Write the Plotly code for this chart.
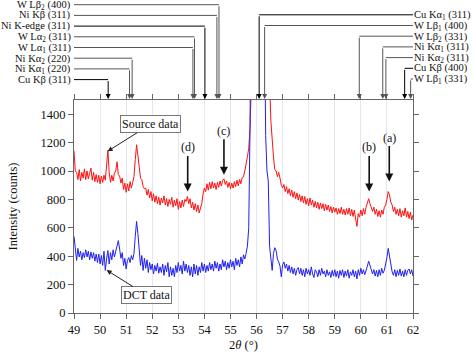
import numpy as np
import plotly.graph_objects as go

# ---------------- data ----------------
two_theta = np.round(np.arange(49.0, 62.0001, 0.05), 2)

source_counts = [
    1140, 1000, 990, 940, 1010, 930, 990, 950, 1015, 940,
    1000, 945, 985, 1020, 935, 990, 925, 975, 920, 970,
    910, 965, 920, 970, 935, 1050, 1145, 990, 920, 970,
    930, 985, 1000, 1065, 975, 965, 915, 950, 870, 915,
    850, 910, 860, 925, 880, 920, 960, 1080, 1185, 1110,
    1030, 950, 940, 890, 875, 880, 830, 870, 810, 855,
    790, 840, 780, 825, 770, 815, 760, 810, 775, 825,
    760, 805, 750, 800, 765, 815, 745, 795, 755, 805,
    730, 785, 740, 795, 750, 800, 785, 820, 770, 805,
    740, 780, 725, 770, 715, 760, 705, 745, 770, 840,
    880, 855, 910, 865, 920, 875, 925, 880, 915, 870,
    920, 885, 930, 895, 935, 945, 905, 930, 885, 920,
    875, 915, 880, 925, 890, 935, 895, 940, 910, 955,
    960, 1000, 1040, 1100, 1160, 1300, 1600, 2200, 3000, 4000,
    5000, 6000, 7000, 7000, 6500, 6000, 5000, 4000, 3000, 2200,
    1650, 1350, 1200, 1100, 1010, 1000, 960, 990, 950, 900,
    880, 905, 855, 890, 840, 875, 825, 865, 815, 855,
    805, 845, 795, 835, 785, 825, 775, 820, 765, 805,
    755, 810, 760, 795, 745, 785, 740, 780, 730, 775,
    735, 770, 720, 765, 725, 760, 715, 750, 705, 745,
    710, 740, 695, 735, 700, 745, 695, 730, 690, 735,
    695, 740, 685, 730, 680, 725, 660, 610, 700, 675,
    725, 685, 735, 695, 745, 770, 805, 770, 745, 715,
    745, 695, 730, 680, 720, 675, 725, 695, 745, 760,
    800, 855, 830, 780, 760, 715, 745, 695, 730, 685,
    735, 675, 720, 685, 740, 675, 715, 665, 710, 655,
    690,
]

dct_counts = [
    540, 440, 370, 455, 395, 435, 375, 425, 390, 445,
    395, 435, 375, 430, 385, 425, 365, 415, 355, 415,
    345, 405, 335, 435, 300, 380, 440, 345, 425, 375,
    445, 395, 435, 470, 510, 450, 385, 425, 335, 385,
    310, 370, 390, 355, 405, 375, 420, 540, 645, 560,
    440, 335, 405, 300, 385, 315, 375, 285, 355, 305,
    345, 275, 335, 295, 350, 280, 325, 285, 345, 265,
    335, 290, 355, 255, 325, 265, 315, 255, 335, 285,
    355, 295, 335, 275, 365, 295, 345, 285, 335, 265,
    325, 255, 345, 275, 335, 265, 325, 285, 355, 295,
    345, 285, 335, 295, 355, 305, 345, 295, 365, 315,
    355, 295, 345, 305, 375, 325, 365, 305, 355, 315,
    375, 325, 365, 305, 385, 335, 375, 325, 395, 345,
    410, 380, 420, 470, 600, 1300, 2600, 4000, 6000, 8000,
    10000, 11000, 10500, 9500, 8000, 5500, 2200, 1250, 1000, 930,
    470, 400, 300, 420, 460, 440, 380, 360, 330, 255,
    340, 360, 315, 345, 295, 335, 285, 325, 275, 315,
    265, 305, 320, 275, 315, 265, 305, 255, 315, 275,
    305, 265, 325, 275, 250, 305, 290, 255, 305, 265,
    315, 275, 295, 255, 305, 265, 290, 250, 300, 260,
    305, 255, 295, 245, 300, 265, 305, 250, 295, 260,
    305, 245, 290, 265, 305, 255, 295, 240, 305, 265,
    315, 275, 305, 270, 310, 330, 365, 340, 310, 275,
    305, 260, 300, 255, 305, 265, 315, 280, 300, 340,
    390, 455, 400, 340, 290, 265, 305, 255, 300, 265,
    310, 260, 295, 255, 305, 265, 300, 310, 275, 305,
    260,
]

left_labels = ["W Lβ<sub>2</sub> (400)", "Ni Kβ (311)", "Ni K-edge (311)",
               "W Lα<sub>2</sub> (311)", "W Lα<sub>1</sub> (311)",
               "Ni Kα<sub>2</sub> (220)", "Ni Kα<sub>1</sub> (220)", "Cu Kβ (311)"]
left_pos = [54.56, 54.48, 54.02, 53.62, 53.56, 51.23, 51.13, 50.31]
left_dark = [False, False, True, False, False, False, False, True]

right_labels = ["Cu Kα<sub>1</sub> (311)", "W Lβ<sub>1</sub> (400)", "W Lβ<sub>2</sub> (331)",
                "Ni Kα<sub>1</sub> (311)", "Ni Kα<sub>2</sub> (311)", "Cu Kβ (400)",
                "W Lβ<sub>1</sub> (331)"]
right_pos = [56.10, 56.31, 59.94, 60.84, 60.96, 61.68, 61.91]
right_dark = [True, False, False, False, False, True, False]

peak_tags = ["(a)", "(b)", "(c)", "(d)"]
peak_pos = [61.09, 60.32, 54.75, 53.36]
peak_tip = [926, 856, 974, 856]

# ---------------- figure ----------------
W, H = 474, 353
ML, MR, MT, MB = 74, 61, 100, 40
PH = H - MT - MB
FONT = "Liberation Serif"
LBL = 10.5


def paper_y(px):
    return (H - MB - px) / PH


fig = go.Figure()
fig.add_trace(go.Scatter(x=two_theta, y=source_counts, mode="lines",
                         line=dict(color="#ff1010", width=1), showlegend=False))
fig.add_trace(go.Scatter(x=two_theta, y=dct_counts, mode="lines",
                         line=dict(color="#2020f0", width=1), showlegend=False))

annotations = []
shapes = []

tip_px = 99
row_gap = 10.7
for k, (lab, pos, dark) in enumerate(zip(left_labels, left_pos, left_dark)):
    ry = 4.7 + row_gap * k
    col = "#000000" if dark else "#555555"
    annotations.append(dict(x=49, y=paper_y(ry), xref="x", yref="paper", text=lab,
                            showarrow=False, xanchor="right", yanchor="middle", xshift=-2,
                            yshift=-1 if "<sub>" in lab else 0,
                            borderpad=0, font=dict(family=FONT, size=LBL, color="#111")))
    shapes.append(dict(type="line", xref="x", yref="paper", x0=49, x1=pos,
                       y0=paper_y(ry), y1=paper_y(ry), line=dict(color=col, width=1)))
    annotations.append(dict(x=pos, y=paper_y(tip_px), xref="x", yref="paper", text="",
                            showarrow=True, ax=0, ay=ry - tip_px, arrowhead=2, arrowsize=1,
                            arrowwidth=1, arrowcolor=col))

for k, (lab, pos, dark) in enumerate(zip(right_labels, right_pos, right_dark)):
    ry = 14.8 + row_gap * k
    col = "#000000" if dark else "#555555"
    annotations.append(dict(x=62, y=paper_y(ry), xref="x", yref="paper", text=lab,
                            showarrow=False, xanchor="left", yanchor="middle", xshift=0,
                            yshift=-1 if "<sub>" in lab else 0,
                            borderpad=0, font=dict(family=FONT, size=LBL, color="#111")))
    shapes.append(dict(type="line", xref="x", yref="paper", x0=pos, x1=62,
                       y0=paper_y(ry), y1=paper_y(ry), line=dict(color=col, width=1)))
    annotations.append(dict(x=pos, y=paper_y(tip_px), xref="x", yref="paper", text="",
                            showarrow=True, ax=0, ay=ry - tip_px, arrowhead=2, arrowsize=1,
                            arrowwidth=1, arrowcolor=col))

for tag, pos, tip in zip(peak_tags, peak_pos, peak_tip):
    annotations.append(dict(x=pos, y=tip, xref="x", yref="y", text=tag, showarrow=True,
                            ax=0, ay=-44, arrowhead=2, arrowsize=1, arrowwidth=1.6,
                            arrowcolor="#111", font=dict(family=FONT, size=12, color="#111")))

annotations.append(dict(x=50.29, y=1139, xref="x", yref="y", text="Source data",
                        showarrow=True, ax=43, ay=-27, arrowhead=2, arrowsize=1, arrowwidth=1,
                        arrowcolor="#222", bordercolor="#777", borderwidth=1, borderpad=1,
                        bgcolor="white", font=dict(family=FONT, size=12, color="#111")))
annotations.append(dict(x=50.25, y=302, xref="x", yref="y", text="DCT data",
                        showarrow=True, ax=40, ay=25, arrowhead=2, arrowsize=1, arrowwidth=1,
                        arrowcolor="#222", bordercolor="#777", borderwidth=1, borderpad=1,
                        bgcolor="white", font=dict(family=FONT, size=12, color="#111")))

fig.update_layout(
    width=W, height=H,
    margin=dict(l=ML, r=MR, t=MT, b=MB, autoexpand=False),
    paper_bgcolor="white", plot_bgcolor="white",
    font=dict(family=FONT, size=12, color="#111"),
    annotations=annotations, shapes=shapes,
    xaxis=dict(range=[49, 62], dtick=1, tick0=49, showgrid=True, gridcolor="#e4e6f2",
               gridwidth=1, zeroline=False, showline=True, linecolor="#666", linewidth=1,
               mirror="allticks", ticks="outside", ticklen=5, tickcolor="#666",
               automargin=False,
               tickfont=dict(family=FONT, size=12.5, color="#111"),
               title=dict(text="2<i>θ</i> (°)", standoff=4,
                          font=dict(family=FONT, size=12.5, color="#111"))),
    yaxis=dict(range=[0, 1500], dtick=200, showgrid=False, zeroline=False, showline=True,
               linecolor="#666", linewidth=1, mirror="allticks", ticks="outside", ticklen=5,
               tickcolor="#666", automargin=False,
               tickfont=dict(family=FONT, size=12.5, color="#111"),
               title=dict(text="Intensity (counts)", standoff=20,
                          font=dict(family=FONT, size=12.5, color="#111"))),
)

fig.write_html("out.html")
